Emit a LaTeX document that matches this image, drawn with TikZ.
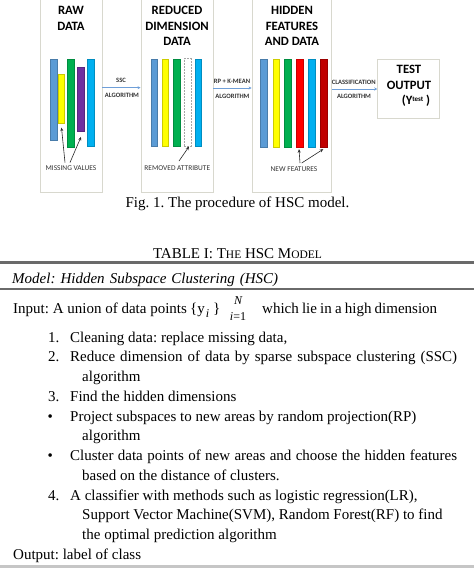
\documentclass[tikz,border=0pt]{standalone}
\usepackage{fontspec}
\setmainfont{Liberation Serif}
\newfontfamily\diag{Carlito}
\frenchspacing
\usetikzlibrary{arrows.meta,calc}
\definecolor{cblue}{HTML}{5B9BD5}
\definecolor{cyellow}{HTML}{FFFF00}
\definecolor{cgreen}{HTML}{00B050}
\definecolor{cpurple}{HTML}{7030A0}
\definecolor{clblue}{HTML}{00B0F0}
\definecolor{cred}{HTML}{FF0000}
\definecolor{cdred}{HTML}{C00000}
\definecolor{frame}{HTML}{D8D8CE}
\definecolor{flowc}{HTML}{6F9FD8}
\definecolor{rulec}{HTML}{6A6A6A}
\tikzset{
  frame/.style={draw=frame, line width=0.9pt, inner sep=0pt},
  colbar/.style={draw=#1!80!black, line width=0.3pt, fill=#1, inner sep=0pt, minimum width=6.4pt},
  gapbar/.style={draw=gray!70, dashed, dash pattern=on 1.5pt off 1.5pt, line width=0.4pt, fill=white, inner sep=0pt, minimum width=6.6pt},
  title/.style={anchor=base, inner sep=0pt, font=\diag\bfseries\fontsize{12.7}{15}\selectfont},
  small/.style={anchor=base, inner sep=0pt, font=\diag\bfseries\fontsize{6.6}{8}\selectfont, text=black!80},
  note/.style={anchor=base, inner sep=0pt, font=\diag\fontsize{7.4}{9}\selectfont, text=black!80},
  flow/.style={draw=flowc, line width=0.8pt, -{Stealth[length=3pt,width=3pt]}},
  pointer/.style={draw=black!85, line width=0.6pt, -{Stealth[length=3.5pt,width=3pt]}},
  tbl/.style={anchor=base west, inner sep=0pt, font=\fontsize{15}{18}\selectfont\frenchspacing},
  idx/.style={anchor=base, inner sep=0pt, font=\itshape\fontsize{12}{12}\selectfont},
}
\begin{document}
\begin{tikzpicture}[x=1pt,y=-1pt]
\useasboundingbox (0,0) rectangle (474,568);
% frames
\node[frame, minimum width=62pt, minimum height=197.5pt] (box1) at (71,93.75) {};
\node[frame, minimum width=72pt, minimum height=197.5pt] (box2) at (177,93.75) {};
\node[frame, minimum width=79.7pt, minimum height=197.5pt] (box3) at (291.85,93.75) {};
\node[frame, minimum width=61.6pt, minimum height=59pt] (box4) at (408.5,88.5) {};
% titles
\node[title] (t1a) at (71,14.4) {RAW};
\node[title] (t1b) at (71,30.1) {DATA};
\node[title] (t2a) at (177,14.4) {REDUCED};
\node[title] (t2b) at (177,30.1) {DIMENSION};
\node[title] (t2c) at (177,45.4) {DATA};
\node[title] (t3a) at (292,14.4) {HIDDEN};
\node[title] (t3b) at (292,30.1) {FEATURES};
\node[title] (t3c) at (292,45.4) {AND DATA};
\node[title] (t4a) at (409,73.4) {TEST};
\node[title] (t4b) at (409,89.1) {OUTPUT};
\node[title] (t4c) at (416,104.1) {(Y\raisebox{0.45ex}{\fontsize{7}{8}\selectfont test}\ )};
% bars box 1
\node[colbar=cblue, minimum width=6.7pt, minimum height=81pt] (b11) at (53.3,99.2) {};
\node[colbar=cyellow, minimum width=6pt, minimum height=49pt] (b12) at (61.3,98.5) {};
\node[colbar=cgreen, minimum width=7pt, minimum height=88pt] (b13) at (70.2,102.7) {};
\node[colbar=cpurple, minimum height=64pt] (b14) at (80.5,99.3) {};
\node[colbar=clblue, minimum height=86.7pt] (b15) at (90.5,102.7) {};
% bars box 2
\node[colbar=cblue, minimum height=87.3pt] (b21) at (154.2,102.3) {};
\node[colbar=cyellow, minimum height=87.3pt] (b22) at (165.2,102.3) {};
\node[colbar=cgreen, minimum height=87.3pt] (b23) at (176.7,102.3) {};
\node[gapbar, minimum height=87.3pt] (b24) at (187.7,102.3) {};
\node[colbar=clblue, minimum height=87.3pt] (b25) at (198.2,102.3) {};
% bars box 3
\node[colbar=cblue, minimum height=88pt] (b31) at (263.5,102.7) {};
\node[colbar=cyellow, minimum height=88pt] (b32) at (276,102.7) {};
\node[colbar=cgreen, minimum height=88pt] (b33) at (287.7,102.7) {};
\node[colbar=cred, minimum height=88pt] (b34) at (299.5,102.7) {};
\node[colbar=clblue, minimum height=88pt] (b35) at (311.7,102.7) {};
\node[colbar=cdred, minimum height=88pt] (b36) at (323.5,102.7) {};
% flows between stages
\draw[flow] (box1.east |- 0,87.7) -- (box2.west |- 0,87.7);
\draw[flow] (box2.east |- 0,88) -- (box3.west |- 0,88);
\draw[flow] (box3.east |- 0,89) -- (box4.west |- 0,89);
\node[small] (l1a) at (121,82.8) {SSC};
\node[small] (l1b) at (122,97.8) {ALGORITHM};
\node[small] (l2a) at (232,83.1) {RP + K-MEAN};
\node[small] (l2b) at (232.5,98.6) {ALGORITHM};
\node[small] (l3a) at (353.7,84.1) {CLASSIFICATION};
\node[small] (l3b) at (354,98.1) {ALGORITHM};
% notes
\node[note] (mv) at (71,170.3) {MISSING VALUES};
\node[note] (ra) at (177.3,170.3) {REMOVED ATTRIBUTE};
\node[note] (nf) at (294,171.5) {NEW FEATURES};
\coordinate (mvs1) at (65,162.5);
\coordinate (mvs2) at (70,162.5);
\coordinate (ras) at (179,161);
\coordinate (nfs1) at (300,163);
\coordinate (nfs2) at (301.7,163);
\draw[pointer] (mvs1) -- ($(b12.south)+(0.2,4.5)$);
\draw[pointer] (mvs2) -- ($(b14.south)+(0.5,5.5)$);
\draw[pointer] (ras) -- ($(b24.south)+(1.3,0.4)$);
\draw[pointer] (nfs1) -- ($(b34.south)+(-0.5,2.3)$);
\draw[pointer] (nfs2) -- ($(b36.south)+(-0.2,2.3)$);
% caption
\node[anchor=base, inner sep=0pt, font=\fontsize{15}{18}\selectfont] (cap) at (237.5,207.3) {Fig. 1. The procedure of HSC model.};
\node[anchor=base, inner sep=0pt, font=\fontsize{15}{18}\selectfont] (tt) at (237.5,258.3) {TABLE I: T{\fontsize{11.5}{12}\selectfont HE} HSC M{\fontsize{11.5}{12}\selectfont ODEL}};
% rules
\draw[rulec, line width=3pt] (0,262.5) -- (474,262.5);
\draw[rulec, line width=1.3pt] (0,289) -- (474,289);
\fill[gray!45] (0,564.5) rectangle (474,568);
% table body
\node[tbl, font=\itshape\fontsize{15}{18}\selectfont] (model) at (12,283) {\makebox[266pt][s]{Model: Hidden Subspace Clustering (HSC)}};
\node[tbl] (inp) at (13,313) {Input: A union of data points};
\node[tbl] (yy) at (190,313) {\{y};
\node[idx] (sub) at (207.5,317) {i};
\node[tbl] (brace) at (213,313) {\}};
\node[idx] (supN) at (238,304) {N};
\node[idx] (subi) at (238,320) {i\upshape =1};
\node[tbl] (inp2) at (262,313) {\makebox[175pt][s]{which lie in a high dimension}};
\node[tbl] (n1) at (48,342) {1.};
\node[tbl] (i1) at (70,342) {Cleaning data: replace missing data,};
\node[tbl] (n2) at (48,361.8) {2.};
\node[tbl] (i2) at (70,361.8) {\makebox[387pt][s]{Reduce dimension of data by sparse subspace clustering (SSC)}};
\node[tbl] (i2b) at (82,381.5) {algorithm};
\node[tbl] (n3) at (48,401.3) {3.};
\node[tbl] (i3) at (70,401.3) {Find the hidden dimensions};
\node[tbl] (u1) at (47.5,421) {\textbullet};
\node[tbl] (j1) at (70,421) {Project subspaces to new areas by random projection(RP)};
\node[tbl] (j1b) at (82,440.8) {algorithm};
\node[tbl] (u2) at (47.5,460.5) {\textbullet};
\node[tbl] (j2) at (70,460.5) {\makebox[387pt][s]{Cluster data points of new areas and choose the hidden features}};
\node[tbl] (j2b) at (82,480.3) {based on the distance of clusters.};
\node[tbl] (n4) at (48,500) {4.};
\node[tbl] (i4) at (70,500) {A classifier with methods such as logistic regression(LR),};
\node[tbl] (i4b) at (82,519.8) {Support Vector Machine(SVM), Random Forest(RF) to find};
\node[tbl] (i4c) at (82,539.5) {the optimal prediction algorithm};
\node[tbl] (out) at (13,559.3) {Output: label of class};
\end{tikzpicture}
\end{document}
